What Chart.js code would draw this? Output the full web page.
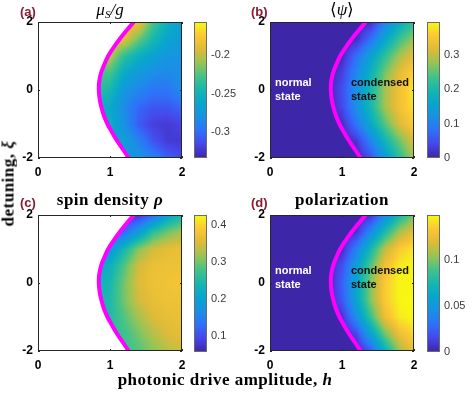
<!DOCTYPE html>
<html>
<head>
<meta charset="utf-8">
<script src="https://cdn.jsdelivr.net/npm/chart.js@4.4.1/dist/chart.umd.min.js"></script>
<style>
  body { margin: 0; background: #fff; }
  #fig { position: relative; width: 474px; height: 395px; overflow: hidden; }
  #fig canvas { position: absolute; }
  .txt { position: absolute; white-space: nowrap; }
  .plab { font: bold 13px "Liberation Sans", Arial, sans-serif; color: #8a1c34; line-height: 13px; }
  .ttl { font: bold 17px "Liberation Serif", "Times New Roman", serif; letter-spacing: 0.5px; line-height: 17px; text-align: center; color: #000; }
  .state { font: bold 11px "Liberation Sans", Arial, sans-serif; line-height: 13.5px; }
</style>
</head>
<body>
<div id="fig">
  <div class="txt plab" style="left:20px;top:5px">(a)</div>
  <div class="txt plab" style="left:251px;top:5px">(b)</div>
  <div class="txt plab" style="left:20px;top:196px">(c)</div>
  <div class="txt plab" style="left:251px;top:196px">(d)</div>

  <div class="txt ttl" style="left:38px;top:1px;width:144px;font-weight:normal;font-style:italic;letter-spacing:0">μ<span style="font-size:11px;position:relative;top:3px">S</span>/g</div>
  <div class="txt ttl" style="left:270px;top:1px;width:144px;font-weight:normal;letter-spacing:0">⟨<i>ψ</i>⟩</div>
  <div class="txt ttl" style="left:38px;top:191px;width:144px">spin density <i>ρ</i></div>
  <div class="txt ttl" style="left:270px;top:191px;width:144px">polarization</div>

  <div class="txt ttl" style="left:-92px;top:175px;width:200px;transform:rotate(-90deg)">detuning, <i>ξ</i></div>
  <div class="txt ttl" style="left:75px;top:371px;width:300px">photonic drive amplitude, <i>h</i></div>
</div>

<script>
const hGrid = [0.8, 1.0, 1.2, 1.4, 1.6, 1.8, 2.0];
const xiGrid = [2, 1.5, 1, 0.5, 0, -0.5, -1, -1.5, -2];

// magenta phase boundary h_c(xi)
const boundaryXi = [-2, -1.75, -1.5, -1.25, -1, -0.75, -0.5, -0.25, 0, 0.25, 0.5, 0.75, 1, 1.25, 1.5, 1.75, 2];
const boundaryH = [1.26, 1.18, 1.10, 1.03, 0.965, 0.915, 0.88, 0.855, 0.845, 0.85, 0.875, 0.92, 0.975, 1.05, 1.135, 1.23, 1.33];

// (a) mu_S / g
const muValues = [
  [-0.178, -0.178, -0.178, -0.183, -0.228, -0.254, -0.266],
  [-0.189, -0.189, -0.189, -0.219, -0.245, -0.263, -0.272],
  [-0.201, -0.201, -0.236, -0.254, -0.266, -0.275, -0.277],
  [-0.228, -0.228, -0.259, -0.272, -0.281, -0.284, -0.281],
  [-0.236, -0.245, -0.275, -0.286, -0.295, -0.295, -0.281],
  [-0.250, -0.259, -0.284, -0.302, -0.309, -0.309, -0.302],
  [-0.254, -0.254, -0.281, -0.307, -0.320, -0.322, -0.317],
  [-0.266, -0.266, -0.266, -0.289, -0.310, -0.322, -0.322],
  [-0.275, -0.275, -0.275, -0.275, -0.289, -0.305, -0.314]
];
// (b) <psi>
const psiValues = [
  [0, 0, 0, 0.012, 0.099, 0.166, 0.217],
  [0, 0, 0.012, 0.079, 0.158, 0.229, 0.277],
  [0, 0.008, 0.079, 0.150, 0.221, 0.284, 0.328],
  [0, 0.032, 0.107, 0.182, 0.261, 0.324, 0.363],
  [0, 0.047, 0.119, 0.198, 0.284, 0.340, 0.383],
  [0, 0.040, 0.119, 0.198, 0.284, 0.340, 0.375],
  [0, 0.012, 0.087, 0.166, 0.245, 0.316, 0.356],
  [0, 0, 0.024, 0.103, 0.190, 0.257, 0.316],
  [0, 0, 0, 0.047, 0.138, 0.217, 0.284]
];
// (c) spin density rho
const rhoValues = [
  [0.076, 0.076, 0.076, 0.076, 0.124, 0.198, 0.242],
  [0.113, 0.113, 0.124, 0.187, 0.261, 0.298, 0.323],
  [0.175, 0.175, 0.242, 0.309, 0.346, 0.360, 0.368],
  [0.205, 0.224, 0.286, 0.346, 0.368, 0.372, 0.372],
  [0.224, 0.242, 0.301, 0.353, 0.372, 0.375, 0.383],
  [0.235, 0.249, 0.301, 0.346, 0.364, 0.372, 0.372],
  [0.242, 0.249, 0.286, 0.323, 0.353, 0.364, 0.368],
  [0.261, 0.261, 0.272, 0.301, 0.331, 0.353, 0.360],
  [0.272, 0.272, 0.272, 0.286, 0.309, 0.331, 0.346]
];
// (d) polarization
const polValues = [
  [0, 0, 0, 0.006, 0.042, 0.074, 0.097],
  [0, 0, 0.007, 0.042, 0.077, 0.107, 0.123],
  [0, 0.004, 0.037, 0.074, 0.112, 0.134, 0.143],
  [0, 0.018, 0.054, 0.092, 0.128, 0.144, 0.147],
  [0, 0.024, 0.059, 0.101, 0.134, 0.147, 0.146],
  [0, 0.021, 0.059, 0.101, 0.134, 0.147, 0.148],
  [0, 0.007, 0.045, 0.086, 0.126, 0.144, 0.148],
  [0, 0, 0.015, 0.057, 0.097, 0.126, 0.138],
  [0, 0, 0, 0.022, 0.067, 0.104, 0.126]
];

// colour limits and tick labels
const muRange = [-0.3335, -0.157];
const psiRange = [0, 0.395];
const rhoRange = [0.057, 0.427];
const polRange = [0, 0.1487];
const muTicks = [-0.3, -0.25, -0.2];
const psiTicks = [0, 0.1, 0.2, 0.3];
const rhoTicks = [0.1, 0.2, 0.3, 0.4];
const polTicks = [0, 0.05, 0.1];
const xTicks = [0, 1, 2];
const yTicks = [-2, 0, 2];

// parula stops
const parula = [
  [0.00, 62, 38, 168], [0.10, 71, 70, 234], [0.20, 46, 113, 250], [0.30, 26, 144, 229],
  [0.40, 8, 165, 206], [0.50, 22, 183, 176], [0.60, 68, 195, 136], [0.70, 152, 196, 86],
  [0.80, 222, 187, 56], [0.90, 252, 200, 52], [0.95, 246, 226, 38], [1.00, 249, 251, 14]
];

function parulaColor(t) {
  t = Math.max(0, Math.min(1, t));
  let i = 0;
  while (i < parula.length - 2 && t > parula[i + 1][0]) i++;
  const a = parula[i], b = parula[i + 1];
  const f = (t - a[0]) / (b[0] - a[0]);
  return [a[1] + (b[1] - a[1]) * f, a[2] + (b[2] - a[2]) * f, a[3] + (b[3] - a[3]) * f];
}

function boundaryAt(xi) {
  let i = 0;
  while (i < boundaryXi.length - 2 && xi > boundaryXi[i + 1]) i++;
  const f = (xi - boundaryXi[i]) / (boundaryXi[i + 1] - boundaryXi[i]);
  return boundaryH[i] + (boundaryH[i + 1] - boundaryH[i]) * f;
}

// shaded like matlab "shading interp"
function sampleGrid(values, h, xi) {
  let i = 0;
  while (i < hGrid.length - 2 && h > hGrid[i + 1]) i++;
  let fx = (h - hGrid[i]) / (hGrid[i + 1] - hGrid[i]);
  fx = Math.max(0, Math.min(1, fx));
  let j = 0;
  while (j < xiGrid.length - 2 && xi < xiGrid[j + 1]) j++;
  let fy = (xiGrid[j] - xi) / (xiGrid[j] - xiGrid[j + 1]);
  fy = Math.max(0, Math.min(1, fy));
  return values[j][i] * (1 - fx) * (1 - fy) + values[j][i + 1] * fx * (1 - fy) +
         values[j + 1][i] * (1 - fx) * fy + values[j + 1][i + 1] * fx * fy;
}

function heatmapPlugin(values, range, outside) {
  return {
    id: 'heatmap',
    beforeDatasetsDraw(chart) {
      const { ctx, chartArea: a, scales: { x, y } } = chart;
      const w = Math.round(a.right - a.left), h = Math.round(a.bottom - a.top);
      const off = document.createElement('canvas');
      off.width = w; off.height = h;
      const octx = off.getContext('2d');
      const img = octx.createImageData(w, h);
      for (let py = 0; py < h; py++) {
        const xi = y.getValueForPixel(a.top + py + 0.5);
        const hb = boundaryAt(xi);
        for (let px = 0; px < w; px++) {
          const hv = x.getValueForPixel(a.left + px + 0.5);
          let c;
          if (hv < hb) c = outside;
          else c = parulaColor((sampleGrid(values, hv, xi) - range[0]) / (range[1] - range[0]));
          const k = (py * w + px) * 4;
          img.data[k] = c[0]; img.data[k + 1] = c[1]; img.data[k + 2] = c[2]; img.data[k + 3] = 255;
        }
      }
      octx.putImageData(img, 0, 0);
      ctx.drawImage(off, a.left, a.top);
    },
    afterDatasetsDraw(chart) {
      const { ctx, chartArea: a, scales: { x, y } } = chart;
      ctx.save();
      ctx.strokeStyle = '#262626';
      ctx.lineWidth = 1;
      ctx.strokeRect(Math.round(a.left) + 0.5, Math.round(a.top) + 0.5,
        Math.round(a.right - a.left) - 1, Math.round(a.bottom - a.top) - 1);
      ctx.beginPath();
      xTicks.forEach(v => {
        const px = Math.round(x.getPixelForValue(v)) + 0.5;
        ctx.moveTo(px, a.top); ctx.lineTo(px, a.top + 2);
        ctx.moveTo(px, a.bottom); ctx.lineTo(px, a.bottom - 2);
      });
      yTicks.forEach(v => {
        const py = Math.round(y.getPixelForValue(v)) + 0.5;
        ctx.moveTo(a.left, py); ctx.lineTo(a.left + 2, py);
        ctx.moveTo(a.right, py); ctx.lineTo(a.right - 2, py);
      });
      ctx.stroke();
      ctx.restore();
    }
  };
}

const gradientPlugin = {
  id: 'gradient',
  beforeDatasetsDraw(chart) {
    const { ctx, chartArea: a, scales: { y } } = chart;
    const top = Math.round(a.top), bottom = Math.round(a.bottom);
    for (let py = top; py < bottom; py++) {
      const v = y.getValueForPixel(py + 0.5);
      const c = parulaColor((v - y.min) / (y.max - y.min));
      ctx.fillStyle = `rgb(${c[0] | 0},${c[1] | 0},${c[2] | 0})`;
      ctx.fillRect(a.left, py, a.right - a.left, 1);
    }
    ctx.save();
    ctx.strokeStyle = '#6b6b6b';
    ctx.lineWidth = 1;
    ctx.strokeRect(Math.round(a.left) + 0.5, top + 0.5, Math.round(a.right - a.left) - 1, bottom - top - 1);
    ctx.restore();
  }
};

const fig = document.getElementById('fig');
function addCanvas(left, top, w, h) {
  const c = document.createElement('canvas');
  c.width = w; c.height = h;
  c.style.left = left + 'px'; c.style.top = top + 'px';
  c.style.width = w + 'px'; c.style.height = h + 'px';
  fig.insertBefore(c, fig.firstChild);
  return c;
}

// drop the label overhang chart.js reserves, so the plot boxes sit where they should
function noPad(s) {
  s.paddingLeft = 0; s.paddingRight = 0; s.paddingTop = 0; s.paddingBottom = 0;
}

const tickFont = { family: '"Liberation Sans", Arial, sans-serif', size: 12, weight: 'bold' };

function makePanel(left, top, values, range, outside) {
  const canvas = addCanvas(left, top, 186, 180);
  return new Chart(canvas, {
    type: 'scatter',
    data: {
      datasets: [{
        data: boundaryH.map((h, i) => ({ x: h, y: boundaryXi[i] })),
        showLine: true,
        borderColor: '#ff00ff',
        borderWidth: 4,
        pointRadius: 0,
        tension: 0.4
      }]
    },
    options: {
      responsive: false,
      animation: false,
      events: [],
      layout: { padding: { left: 0, right: 4, top: 22, bottom: 0 } },
      plugins: { legend: { display: false }, tooltip: { enabled: false } },
      scales: {
        x: {
          type: 'linear', min: 0, max: 2,
          afterBuildTicks: s => { s.ticks = xTicks.map(v => ({ value: v })); },
          afterFit: s => { s.height = 22; noPad(s); },
          grid: { display: false, drawTicks: false },
          border: { display: false },
          ticks: { font: tickFont, color: '#000', padding: 7, maxRotation: 0, callback: v => String(v) }
        },
        y: {
          type: 'linear', min: -2, max: 2,
          afterBuildTicks: s => { s.ticks = yTicks.map(v => ({ value: v })); },
          afterFit: s => { s.width = 38; noPad(s); },
          grid: { display: false, drawTicks: false },
          border: { display: false },
          ticks: { font: tickFont, color: '#000', padding: 5, callback: v => String(v) }
        }
      }
    },
    plugins: [heatmapPlugin(values, range, outside)]
  });
}

function makeColorbar(left, top, areaBottom, range, ticks) {
  // canvas runs 12px past the bar so the bottom tick label is not cut
  const canvas = addCanvas(left, top, 53, areaBottom + 12);
  return new Chart(canvas, {
    type: 'scatter',
    data: { datasets: [] },
    options: {
      responsive: false,
      animation: false,
      events: [],
      layout: { padding: { left: 0, right: 0, top: 22, bottom: 12 } },
      plugins: { legend: { display: false }, tooltip: { enabled: false } },
      scales: {
        x: { display: false, min: 0, max: 1 },
        y: {
          type: 'linear', position: 'right', min: range[0], max: range[1],
          afterBuildTicks: s => { s.ticks = ticks.map(v => ({ value: v })); },
          afterFit: s => { s.width = 40; noPad(s); },
          grid: { display: false, drawTicks: false },
          border: { display: false },
          ticks: { font: { family: '"Liberation Sans", Arial, sans-serif', size: 11 }, color: '#3a3a3a', padding: 4, callback: v => String(v) }
        }
      }
    },
    plugins: [gradientPlugin]
  });
}

const white = [255, 255, 255];
const zeroColor = parulaColor(0);

makePanel(0, 0, muValues, muRange, white);
makePanel(232, 0, psiValues, psiRange, zeroColor);
makePanel(0, 193, rhoValues, rhoRange, white);
makePanel(232, 193, polValues, polRange, zeroColor);

makeColorbar(194, 0, 158, muRange, muTicks);
makeColorbar(427, 0, 158, psiRange, psiTicks);
makeColorbar(194, 193, 159, rhoRange, rhoTicks);
makeColorbar(427, 193, 159, polRange, polTicks);

// state labels on top of the maps
[[275, 76, 351], [275, 264, 351]].forEach(([l, t, r]) => {
  const n = document.createElement('div');
  n.className = 'txt state';
  n.style.cssText = `left:${l}px;top:${t}px;color:#fff;z-index:2`;
  n.innerHTML = 'normal<br>state';
  fig.appendChild(n);
  const c = document.createElement('div');
  c.className = 'txt state';
  c.style.cssText = `left:${r}px;top:${t}px;color:#111;z-index:2`;
  c.innerHTML = 'condensed<br>state';
  fig.appendChild(c);
});
</script>
</body>
</html>
